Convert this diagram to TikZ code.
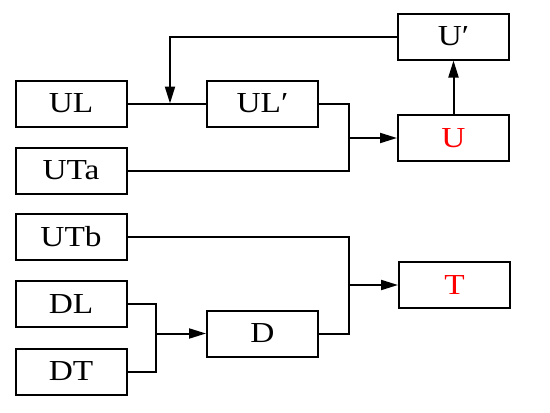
\documentclass[tikz,border=0pt]{standalone}
\usepackage{fontspec}
\setmainfont[FakeStretch=1.15]{Liberation Serif}
\usetikzlibrary{arrows.meta}
\begin{document}
\begin{tikzpicture}[x=1pt,y=-1pt,line width=2pt,
  blk/.style={draw,minimum width=111pt,minimum height=46pt,inner sep=0pt,font=\fontsize{29}{29}\selectfont},
  arr/.style={-{Triangle[length=17pt,width=10pt]}}]
\useasboundingbox (0,0) rectangle (550,413);
\node[blk] (UL)  at (71,103.5) {UL};
\node[blk] (ULp) at (262.5,103.5) {UL′};
\node[blk] (Up)  at (453.5,36.5) {U′};
\node[blk,text=red] (U) at (453.5,138) {U};
\node[blk] (UTa) at (71,170.5) {UTa};
\node[blk] (UTb) at (71,237) {UTb};
\node[blk] (DL)  at (71,304) {DL};
\node[blk] (DT)  at (71,371.5) {DT};
\node[blk] (D)   at (262.5,333.5) {D};
\node[blk,text=red] (T) at (454.5,285) {T};
% junction coordinates
\coordinate (fb) at (170,103.5);
\coordinate (jU) at (349,138);
\coordinate (jT) at (349,285);
\coordinate (jD) at (156,333.5);
% upper part
\draw (UL.east) -- (ULp.west);
\draw[arr] (Up.west) -| (fb);
\draw (ULp.east) -| (jU);
\draw (UTa.east) -| (jU);
\draw[arr] (jU) -- (U.west);
\draw[arr] (U.north) -- (Up.south);
% lower part
\draw (UTb.east) -| (jT);
\draw (D.east) -| (jT);
\draw[arr] (jT) -- (T.west);
\draw (DL.east) -| (jD);
\draw (DT.east) -| (jD);
\draw[arr] (jD) -- (D.west);
\end{tikzpicture}
\end{document}
